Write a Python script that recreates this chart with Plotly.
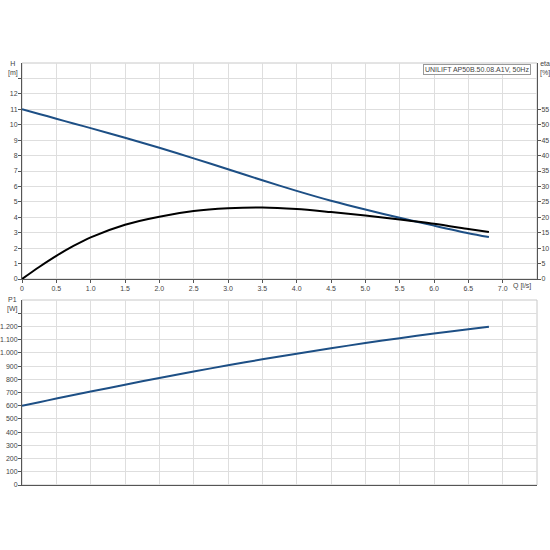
"""
Pump performance chart: head / efficiency over flow, and input power P1.
"""

import plotly.graph_objects as go

# ── Data ──────────────────────────────────────────────────────────────────────

flow_q = [0, 0.25, 0.5, 0.75, 1.0, 1.5, 2.0, 2.5, 3.0, 3.5,
          4.0, 4.5, 5.0, 5.5, 6.0, 6.5, 6.8]
head_h = [11.0, 10.7, 10.39, 10.08, 9.78, 9.15, 8.51, 7.82, 7.11, 6.40,
          5.71, 5.07, 4.50, 3.97, 3.46, 2.97, 2.72]
eta_pct = [0, 3.9, 7.5, 10.7, 13.5, 17.6, 20.2, 22.0, 22.9, 23.2,
           22.7, 21.7, 20.6, 19.3, 17.9, 16.2, 15.2]
power_p1 = [600, 627, 654, 681, 707, 759, 810, 859, 906, 951,
            994, 1035, 1074, 1111, 1146, 1179, 1198]

q_ticks = [0, 0.5, 1.0, 1.5, 2.0, 2.5, 3.0, 3.5, 4.0, 4.5, 5.0, 5.5, 6.0, 6.5, 7.0]
q_labels = ["0", "0.5", "1.0", "1.5", "2.0", "2.5", "3.0", "3.5",
            "4.0", "4.5", "5.0", "5.5", "6.0", "6.5", "7.0"]
h_ticks = list(range(0, 14))
h_labels = [str(v) for v in range(0, 13)] + [""]
eta_ticks = list(range(0, 60, 5))
p1_ticks = list(range(0, 1400, 100))
p1_labels = ["0", "100", "200", "300", "400", "500", "600", "700", "800",
             "900", "1.000", "1.100", "1.200", ""]

PUMP_NAME = "UNILIFT AP50B.50.08.A1V, 50Hz"

BLUE = "#1d4f85"
GRID = "#dedede"
AXIS = "#555555"
TXT = "#444444"
FONT = "Liberation Sans"

# ── Geometry helpers (px -> paper) ────────────────────────────────────────────

W, H = 550, 550
ML, MR, MT, MB = 22, 13, 63, 65
PW, PH = W - ML - MR, H - MT - MB


def px_x(px):
    return (px - ML) / PW


def px_y(py):
    return (H - MB - py) / PH


TOP_DOM = [px_y(279), 1.0]
BOT_DOM = [0.0, px_y(300)]

# ── Figure ────────────────────────────────────────────────────────────────────

fig = go.Figure()

fig.add_trace(go.Scatter(
    x=flow_q, y=head_h, mode="lines", name="H",
    line=dict(color=BLUE, width=2, shape="spline", smoothing=0.8),
    xaxis="x", yaxis="y",
))
fig.add_trace(go.Scatter(
    x=flow_q, y=eta_pct, mode="lines", name="eta",
    line=dict(color="#000000", width=2, shape="spline", smoothing=0.8),
    xaxis="x", yaxis="y2",
))
fig.add_trace(go.Scatter(
    x=flow_q, y=power_p1, mode="lines", name="P1",
    line=dict(color=BLUE, width=2, shape="spline", smoothing=0.8),
    xaxis="x2", yaxis="y3",
))

tick_font = dict(family=FONT, size=7, color=TXT)
common_x = dict(
    range=[0, 7.5], showgrid=True, gridcolor=GRID, gridwidth=1,
    zeroline=False, showline=True, linecolor=AXIS, linewidth=1,
    ticks="outside", ticklen=3, tickcolor=AXIS, tickfont=tick_font,
    automargin=False,
)
common_y = dict(
    showgrid=True, gridcolor=GRID, gridwidth=1, zeroline=False,
    showline=True, linecolor=AXIS, linewidth=1,
    ticks="outside", ticklen=3, tickcolor=AXIS, tickfont=tick_font,
    ticklabelstandoff=-1, automargin=False,
)

fig.update_layout(
    width=W, height=H, autosize=False,
    paper_bgcolor="white", plot_bgcolor="white",
    margin=dict(l=ML, r=MR, t=MT, b=MB, autoexpand=False),
    showlegend=False,
    xaxis=dict(common_x, domain=[0, 1], anchor="y",
               tickvals=q_ticks, ticktext=q_labels),
    yaxis=dict(common_y, domain=TOP_DOM, anchor="x", range=[0, 14],
               tickvals=h_ticks, ticktext=h_labels),
    yaxis2=dict(common_y, overlaying="y", side="right", anchor="x",
                range=[0, 70], tickvals=eta_ticks, showgrid=False),
    xaxis2=dict(common_x, domain=[0, 1], anchor="y3",
                tickvals=q_ticks, showticklabels=False, ticks=""),
    yaxis3=dict(common_y, domain=BOT_DOM, anchor="x2", range=[0, 1400],
                tickvals=p1_ticks, ticktext=p1_labels),
)

# light frames round both panels
for dom in (TOP_DOM, BOT_DOM):
    fig.add_shape(type="rect", xref="paper", yref="paper",
                  x0=0, x1=1, y0=dom[0], y1=dom[1],
                  line=dict(color="#c8c8c8", width=1), layer="below")

# axis titles
lab = dict(family=FONT, size=7, color=TXT)
for text, x, y, anchor in [
    ("H<br>[m]", 13, 68.5, "center"),
    ("eta<br>[%]", 538, 68.5, "left"),
    ("P1<br>[W]", 12, 304, "center"),
    ("Q [l/s]", 522, 286, "center"),
]:
    fig.add_annotation(text=text, xref="paper", yref="paper",
                       x=px_x(x), y=px_y(y), xanchor=anchor, yanchor="middle",
                       showarrow=False, font=lab, align="center")

# pump name box
fig.add_annotation(
    text=PUMP_NAME, xref="paper", yref="paper",
    x=px_x(531), y=px_y(64), xanchor="right", yanchor="top",
    showarrow=False, font=dict(family=FONT, size=7, color=TXT),
    bgcolor="white", bordercolor="#999999", borderwidth=1, borderpad=1,
)

# the page body has a default 8px margin; drop it so the figure sits at 0,0
fig.write_html("out.html", config={"displayModeBar": False},
               post_script="document.body.style.margin = '0';")
